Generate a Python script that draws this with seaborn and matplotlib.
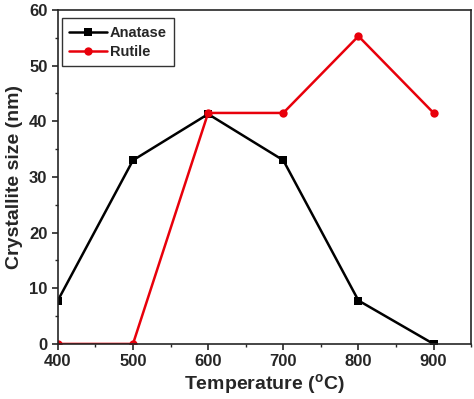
import numpy as np
import pandas as pd
import matplotlib
matplotlib.use('Agg')
import matplotlib.pyplot as plt
import seaborn as sns
from matplotlib.ticker import MultipleLocator

# ── Data ──────────────────────────────────────────────────────────────────────
temperature = [400, 500, 600, 700, 800, 900]
anatase = [7.8, 33.0, 41.3, 33.0, 7.8, 0.0]
rutile = [0.0, 0.0, 41.5, 41.5, 55.3, 41.5]

df = pd.DataFrame({
    'Temperature': temperature * 2,
    'Size': anatase + rutile,
    'Phase': ['Anatase'] * len(temperature) + ['Rutile'] * len(temperature),
})

# ── Style ─────────────────────────────────────────────────────────────────────
sns.set_style('ticks')
plt.rcParams['font.family'] = ['Liberation Sans', 'DejaVu Sans']
plt.rcParams['font.weight'] = 'bold'

fig = plt.figure(figsize=(4.74, 3.99), dpi=100)
ax = fig.add_axes([0.122, 0.138, 0.872, 0.837])

sns.lineplot(data=df, x='Temperature', y='Size', hue='Phase', style='Phase',
             palette={'Anatase': 'black', 'Rutile': '#e8000b'},
             markers={'Anatase': 's', 'Rutile': 'o'}, dashes=False,
             markersize=6, linewidth=1.8, markeredgewidth=0, ax=ax)

ax.set_xlim(400, 950)
ax.set_ylim(0, 60)
ax.xaxis.set_major_locator(MultipleLocator(100))
ax.xaxis.set_minor_locator(MultipleLocator(50))
ax.yaxis.set_major_locator(MultipleLocator(10))
ax.yaxis.set_minor_locator(MultipleLocator(5))
ax.tick_params(which='major', direction='out', length=4, width=1.2, labelsize=12)
ax.tick_params(which='minor', direction='out', length=2.5, width=1.0)
for lab in ax.get_xticklabels() + ax.get_yticklabels():
    lab.set_fontweight('bold')
for s in ax.spines.values():
    s.set_linewidth(1.2)
    s.set_visible(True)

ax.set_xlabel('Temperature ($\\mathregular{^{o}}$C)', fontsize=14, fontweight='bold', labelpad=2)
ax.set_ylabel('Crystallite size (nm)', fontsize=14, fontweight='bold', labelpad=4)

leg = ax.legend(loc='upper left', bbox_to_anchor=(0.01, 0.975), fontsize=10.5,
                frameon=True, fancybox=False, edgecolor='black', borderaxespad=0,
                handlelength=2.6, handletextpad=0.2, borderpad=0.5, labelspacing=0.35)
leg.get_frame().set_linewidth(1.0)
leg.set_title(None)
for t in leg.get_texts():
    t.set_fontweight('bold')

plt.savefig('out.png', dpi=100)
